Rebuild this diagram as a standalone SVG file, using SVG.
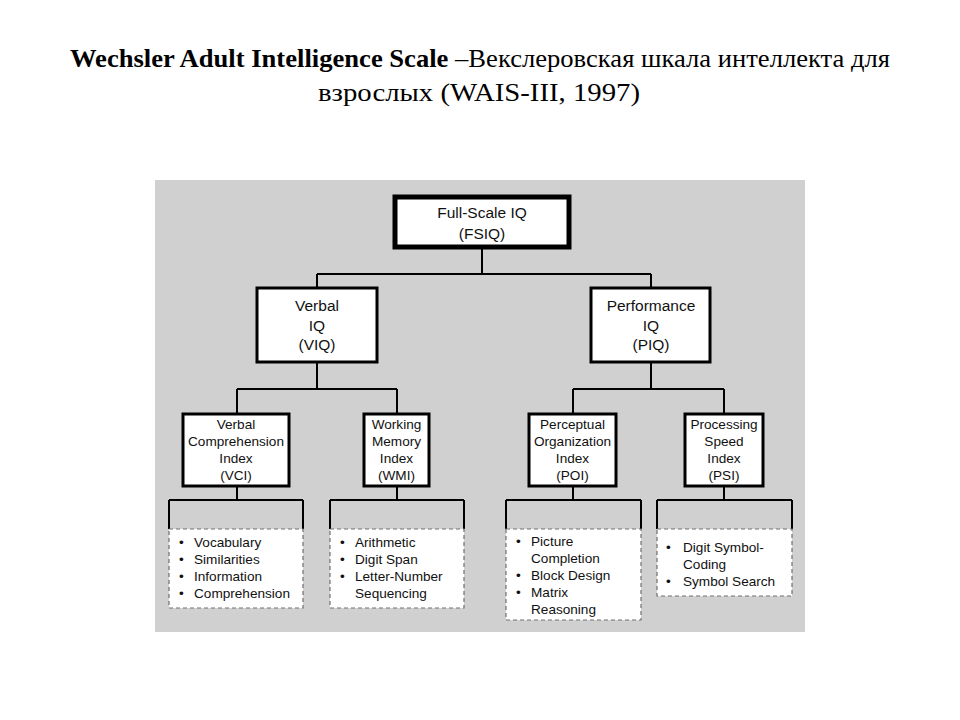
<svg xmlns="http://www.w3.org/2000/svg" width="960" height="720" viewBox="0 0 960 720">
<style>
.title{font-family:"Liberation Serif","Times New Roman","DejaVu Serif",serif;font-size:25px;fill:#000}
.box{fill:#fff;stroke:#000;stroke-width:3}
.top{fill:#fff;stroke:#000;stroke-width:5}
.list{fill:#fff;stroke:#707070;stroke-width:1.2;stroke-dasharray:4 3}
.t1{font-family:"Liberation Sans",Arial,sans-serif;font-size:15.5px;text-anchor:middle;fill:#111}
.t3{font-family:"Liberation Sans",Arial,sans-serif;font-size:13.6px;text-anchor:middle;fill:#111}
.li{font-family:"Liberation Sans",Arial,sans-serif;font-size:13.6px;fill:#111}
.conn{fill:none;stroke:#000;stroke-width:2}
</style>
<rect width="960" height="720" fill="#fff"/>
<g id="title">
<text class="title" x="480" y="67" text-anchor="middle" textLength="820" lengthAdjust="spacingAndGlyphs"><tspan font-weight="bold">Wechsler Adult Intelligence Scale </tspan>–Векслеровская шкала интеллекта для</text>
<text class="title" x="479" y="101" text-anchor="middle" textLength="322" lengthAdjust="spacingAndGlyphs">взрослых (WAIS-III, 1997)</text>
</g>
<rect id="panel" x="155" y="180" width="650" height="452" fill="#d0d0d0"/>
<g id="connectors">
<path class="conn" d="M482 249V274M317 274H651M317 274V287M651 274V287"/>
<path class="conn" d="M317 363V389M237 389H397M237 389V413M397 389V413"/>
<path class="conn" d="M651 363V389M573 389H724M573 389V413M724 389V413"/>
<path class="conn" d="M237 486V500M169 500H303M169 500V529M303 500V529"/>
<path class="conn" d="M397 486V500M330 500H464M330 500V529M464 500V529"/>
<path class="conn" d="M573 486V500M506 500H641M506 500V529M641 500V529"/>
<path class="conn" d="M724 486V500M657 500H792M657 500V529M792 500V529"/>
</g>
<g id="fsiq">
<rect class="top" x="395" y="197" width="174" height="50"/>
<text class="t1" x="482" y="218">Full-Scale IQ</text>
<text class="t1" x="482" y="239">(FSIQ)</text>
</g>
<g id="viq">
<rect class="box" x="257" y="288" width="120" height="74"/>
<text class="t1" x="317" y="311">Verbal</text>
<text class="t1" x="317" y="330.5">IQ</text>
<text class="t1" x="317" y="350">(VIQ)</text>
</g>
<g id="piq">
<rect class="box" x="591" y="288" width="119" height="74"/>
<text class="t1" x="651" y="311">Performance</text>
<text class="t1" x="651" y="330.5">IQ</text>
<text class="t1" x="651" y="350">(PIQ)</text>
</g>
<g id="vci">
<rect class="box" x="183" y="414" width="106" height="72"/>
<text class="t3" x="236" y="429">Verbal</text>
<text class="t3" x="236" y="446">Comprehension</text>
<text class="t3" x="236" y="463">Index</text>
<text class="t3" x="236" y="480">(VCI)</text>
</g>
<g id="wmi">
<rect class="box" x="364" y="414" width="65" height="72"/>
<text class="t3" x="396.5" y="429">Working</text>
<text class="t3" x="396.5" y="446">Memory</text>
<text class="t3" x="396.5" y="463">Index</text>
<text class="t3" x="396.5" y="480">(WMI)</text>
</g>
<g id="poi">
<rect class="box" x="529" y="414" width="87" height="72"/>
<text class="t3" x="572.5" y="429">Perceptual</text>
<text class="t3" x="572.5" y="446">Organization</text>
<text class="t3" x="572.5" y="463">Index</text>
<text class="t3" x="572.5" y="480">(POI)</text>
</g>
<g id="psi">
<rect class="box" x="685" y="414" width="78" height="72"/>
<text class="t3" x="724" y="429">Processing</text>
<text class="t3" x="724" y="446">Speed</text>
<text class="t3" x="724" y="463">Index</text>
<text class="t3" x="724" y="480">(PSI)</text>
</g>
<g id="vci-list">
<rect class="list" x="169" y="529" width="134" height="79"/>
<text class="li" x="179" y="547">•</text><text class="li" x="194" y="547">Vocabulary</text>
<text class="li" x="179" y="564">•</text><text class="li" x="194" y="564">Similarities</text>
<text class="li" x="179" y="581">•</text><text class="li" x="194" y="581">Information</text>
<text class="li" x="179" y="598">•</text><text class="li" x="194" y="598">Comprehension</text>
</g>
<g id="wmi-list">
<rect class="list" x="330" y="529" width="134" height="79"/>
<text class="li" x="340" y="547">•</text><text class="li" x="355" y="547">Arithmetic</text>
<text class="li" x="340" y="564">•</text><text class="li" x="355" y="564">Digit Span</text>
<text class="li" x="340" y="581">•</text><text class="li" x="355" y="581">Letter-Number</text>
<text class="li" x="355" y="598">Sequencing</text>
</g>
<g id="poi-list">
<rect class="list" x="506" y="529" width="135" height="91"/>
<text class="li" x="516" y="546">•</text><text class="li" x="531" y="546">Picture</text>
<text class="li" x="531" y="563">Completion</text>
<text class="li" x="516" y="580">•</text><text class="li" x="531" y="580">Block Design</text>
<text class="li" x="516" y="597">•</text><text class="li" x="531" y="597">Matrix</text>
<text class="li" x="531" y="614">Reasoning</text>
</g>
<g id="psi-list">
<rect class="list" x="657" y="529" width="135" height="67"/>
<text class="li" x="666" y="552">•</text><text class="li" x="683" y="552">Digit Symbol-</text>
<text class="li" x="683" y="569">Coding</text>
<text class="li" x="666" y="586">•</text><text class="li" x="683" y="586">Symbol Search</text>
</g>
</svg>
